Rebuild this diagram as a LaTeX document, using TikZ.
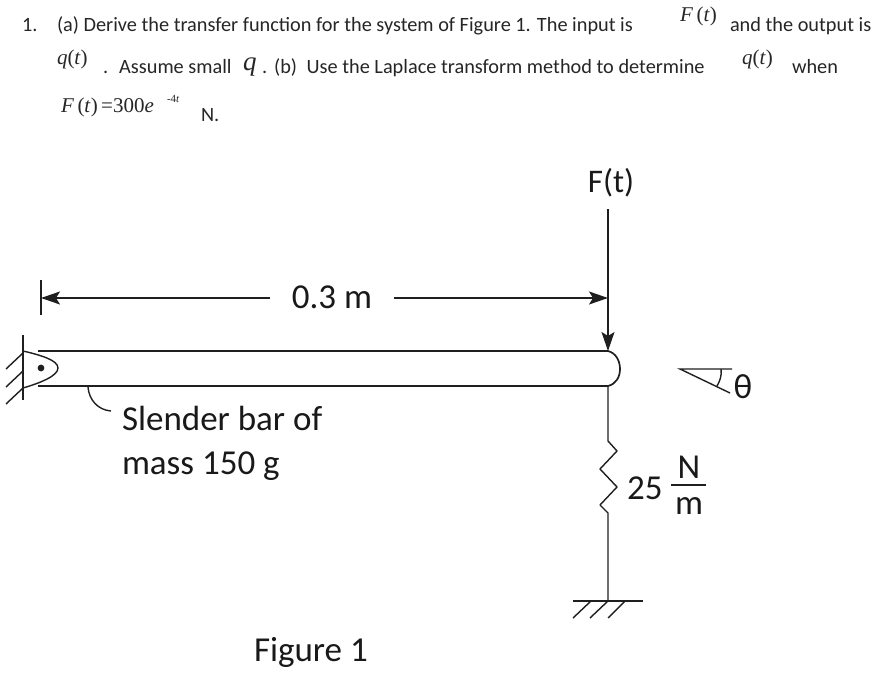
\documentclass[tikz,border=0pt]{standalone}
\usepackage{fontspec}
\setmainfont{Carlito}
\newfontfamily\mathf{Liberation Serif}
\usetikzlibrary{arrows.meta}
\tikzset{
 body/.style={anchor=base west,inner sep=0pt,outer sep=0pt,font=\fontsize{20.3}{24}\selectfont,text=black!85},
 eqn/.style={anchor=base west,inner sep=0pt,outer sep=0pt,font=\mathf\fontsize{21}{24}\selectfont,text=black!85},
 label/.style={anchor=base west,inner sep=0pt,outer sep=0pt,font=\fontsize{35}{40}\selectfont,text=black!90},
 line/.style={draw=black!88,line width=1.7pt},
 thin line/.style={draw=black!88,line width=1.4pt},
 tip/.style={-{Stealth[length=19pt,width=13pt,inset=4pt]}},
}
\begin{document}
\begin{tikzpicture}[x=1pt,y=-1pt]
\useasboundingbox (0,0) rectangle (884,674);
\fill[white] (0,0) rectangle (884,674);
% question text
\node[body] (n1) at (22,32) {1.};
\node[body] (l1) at (57,32) {(a) Derive the transfer function for the system of Figure 1. The input is};
\node[eqn] (f1) at (680,22) {\textit{F}\,(\textit{t})};
\node[body] (l1b) at (730,32) {and the output is};
\node[eqn] (q1) at (57,65) {\textit{q}(\textit{t})};
\node[body] (l2a) at (103,74) {.\hspace{5pt} Assume small};
\node[eqn,font=\fontsize{27}{30}\selectfont\mathf] (q2) at (243,71) {\textit{q}};
\node[body] (l2b) at (262,74) {.\hspace{7pt}(b)\hspace{5pt} Use the Laplace transform method to determine};
\node[eqn] (q3) at (742,65) {\textit{q}(\textit{t})};
\node[body] (l2c) at (792,74) {when};
\node[eqn] (f2) at (61,113) {\textit{F}\,(\textit{t})\,=300\textit{e}};
\node[eqn,font=\mathf\fontsize{11}{12}\selectfont] (e) at (167,103) {-4\textit{t}};
\node[body] (nn) at (201,122) {N.};
% labels
\node[label,anchor=base,font=\fontsize{33}{38}\selectfont] (ft) at (611,193) {F(t)};
\node[label,anchor=base] (dim) at (332,308) {0.3 m};
\node[label] (sb1) at (122,430) {Slender bar of};
\node[label] (sb2) at (122,474) {mass 150 g};
\node[label] (fig) at (254,661) {Figure 1};
\node[label] (k) at (627,499) {25};
\node[label,anchor=base] (kn) at (689,478) {N};
\node[label,anchor=base] (km) at (689,514) {m};
\node[label,anchor=base] (th) at (743,398) {θ};
% coordinates
\coordinate (dimL) at (41,298);
\coordinate (dimR) at (608,298);
\coordinate (ftop) at (608,209);
\coordinate (barTR) at (608,351);
\coordinate (barBR) at (608,386);
\coordinate (barTL) at (38,351);
\coordinate (barBL) at (38,386);
\coordinate (sprA) at (608,441);
\coordinate (sprB) at (608,513);
\coordinate (gnd) at (608,601);
% dimension
\draw[thin line] (41,280) -- (41,315);
\draw[thin line,tip] (dim.west |- dimL) ++(-22,0) -- (dimL);
\draw[thin line,tip] (dim.east |- dimR) ++(22,0) -- (dimR);
% force
\draw[thin line,tip] (ftop) -- (barTR);
% bar
\draw[line] (barTL) -- (barTR) .. controls (616,353) and (620,361) .. (620,369) .. controls (620,377) and (616,384) .. (barBR) -- (barBL);
% pin
\draw[thin line] (23,335) -- (23,400);
\draw[thin line] (23,351) .. controls (40,355) and (58,360) .. (58,368) .. controls (58,376) and (40,383) .. (23,388);
\fill[black!88] (41,368) circle (3.4);
\draw[thin line] (6,369) -- (23,353);
\draw[thin line] (6,387) -- (23,371);
\draw[thin line] (6,404) -- (23,388);
% leader
\draw[thin line] (88,387) .. controls (89,400) and (98,410) .. (111,411);
% spring
\draw[thin line,line join=round] (barBR) -- (sprA) -- (617,451) -- (600,469) -- (617,487) -- (600,505) -- (sprB) -- (gnd);
% ground
\draw[line] (573,601) -- (643,601);
\draw[thin line] (573,618) -- (591,601);
\draw[thin line] (590,618) -- (608,601);
\draw[thin line] (608,618) -- (625,601);
% fraction
\draw[thin line] (671,485) -- (706,485);
% angle
\draw[thin line] (732,369) -- (680,369) -- (730,393);
\draw[thin line] (721,369) .. controls (722,375) and (720,381) .. (717,386);
\end{tikzpicture}
\end{document}
